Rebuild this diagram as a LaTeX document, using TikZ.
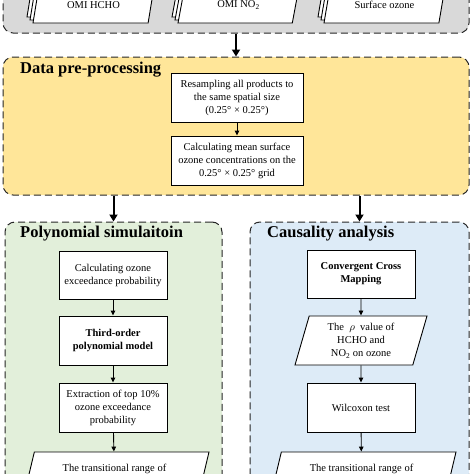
\documentclass[tikz,border=0pt]{standalone}
\usepackage{fontspec}
\setmainfont{Liberation Serif}
\usetikzlibrary{shapes.geometric, shadows, arrows.meta}

\definecolor{rawgray}{HTML}{D9D9D9}
\definecolor{prepyellow}{HTML}{FFE699}
\definecolor{polygreen}{HTML}{E2EFDA}
\definecolor{causblue}{HTML}{DDEBF7}

\tikzset{
    panel/.style={draw=black!85, dash pattern=on 7pt off 4pt, line width=1pt, rounded corners=10pt},
    panelname/.style={anchor=west, inner sep=0pt, font=\fontsize{16.5}{18}\selectfont\bfseries},
    stepbox/.style={draw, fill=white, line width=0.9pt, align=center, inner sep=2pt, font=\fontsize{10.5}{13}\selectfont},
    databox/.style={stepbox, trapezium, trapezium left angle=70, trapezium right angle=110, trapezium stretches body},
    inputbox/.style={databox, trapezium left angle=62, trapezium right angle=118, minimum width=121pt, minimum height=36pt,
        copy shadow={shadow xshift=-6pt, shadow yshift=6pt}, copy shadow={shadow xshift=-3pt, shadow yshift=3pt}},
    bigarrow/.style={-{Triangle[length=7pt,width=8pt]}, line width=2pt},
    smallarrow/.style={-{Triangle[length=5pt,width=4.5pt]}, line width=0.9pt},
}

\begin{document}
\begin{tikzpicture}[x=1pt, y=-1pt]
    \useasboundingbox (0,0) rectangle (474,474);
    \clip (0,0) rectangle (474,474);

    %panels
    \node[panel, fill=rawgray, minimum width=466pt, minimum height=73pt] (raw) at (236,-3.5) {};
    \node[panel, fill=prepyellow, minimum width=466pt, minimum height=138pt] (prep) at (236,126) {};
    \node[panel, fill=polygreen, minimum width=217pt, minimum height=318pt] (poly) at (113.5,381) {};
    \node[panel, fill=causblue, minimum width=219pt, minimum height=318pt] (caus) at (359.5,381) {};

    %panel titles
    \node[panelname] (prepname) at (20,70) {Data pre-processing};
    \node[panelname] (polyname) at (20,234) {Polynomial simulaitoin};
    \node[panelname] (causname) at (267,234) {Causality analysis};

    %input data
    \node[inputbox] (hcho) at (93.5,5) {OMI HCHO};
    \node[inputbox] (no2) at (238.5,5) {OMI NO\textsubscript{2}};
    \node[inputbox] (ozone) at (384.5,5) {Surface ozone};

    %pre-processing
    \node[stepbox, minimum width=132pt, minimum height=49pt] (resample) at (237,97.5)
        {Resampling all products to\\the same spatial size\\(0.25° × 0.25°)};
    \node[stepbox, minimum width=132pt, minimum height=49pt] (meanozone) at (237,160.5)
        {Calculating mean surface\\ozone concentrations on the\\0.25° × 0.25° grid};

    %polynomial
    \node[stepbox, minimum width=108pt, minimum height=48pt] (exceed) at (113,275)
        {Calculating ozone\\exceedance probability};
    \node[stepbox, minimum width=108pt, minimum height=49pt, font=\fontsize{10.5}{13}\selectfont\bfseries] (thirdorder) at (113,340.5)
        {Third-order\\polynomial model};
    \node[stepbox, minimum width=108pt, minimum height=49pt] (topten) at (113,407.5)
        {Extraction of top 10\%\\ozone exceedance\\probability};
    \node[databox, minimum width=189pt, minimum height=60pt, text depth=28pt] (polyrange) at (114.5,482)
        {The transitional range of};

    %causality
    \node[stepbox, minimum width=108pt, minimum height=48pt, font=\fontsize{10.5}{13}\selectfont\bfseries] (ccm) at (361,274)
        {Convergent Cross\\Mapping};
    \node[databox, minimum width=132pt, minimum height=49pt] (rhovalue) at (361,340.5)
        {The~ $\rho$ ~value of\\HCHO and\\NO\textsubscript{2} on ozone};
    \node[stepbox, minimum width=108pt, minimum height=49pt] (wilcoxon) at (361,407.5)
        {Wilcoxon test};
    \node[databox, minimum width=189pt, minimum height=60pt, text depth=28pt] (causrange) at (361.5,482)
        {The transitional range of};

    %edges
    \draw[bigarrow] (raw.south) -- (prep.north);
    \draw[bigarrow] (prep.south -| poly.north) -- (poly.north);
    \draw[bigarrow] (prep.south -| caus.north) -- (caus.north);
    \draw[smallarrow] (resample) -- (meanozone);
    \draw[smallarrow] (exceed) -- (thirdorder);
    \draw[smallarrow] (thirdorder) -- (topten);
    \draw[smallarrow] (topten) -- (polyrange);
    \draw[smallarrow] (ccm) -- (rhovalue);
    \draw[smallarrow] (rhovalue) -- (wilcoxon);
    \draw[smallarrow] (wilcoxon) -- (causrange);
\end{tikzpicture}
\end{document}
